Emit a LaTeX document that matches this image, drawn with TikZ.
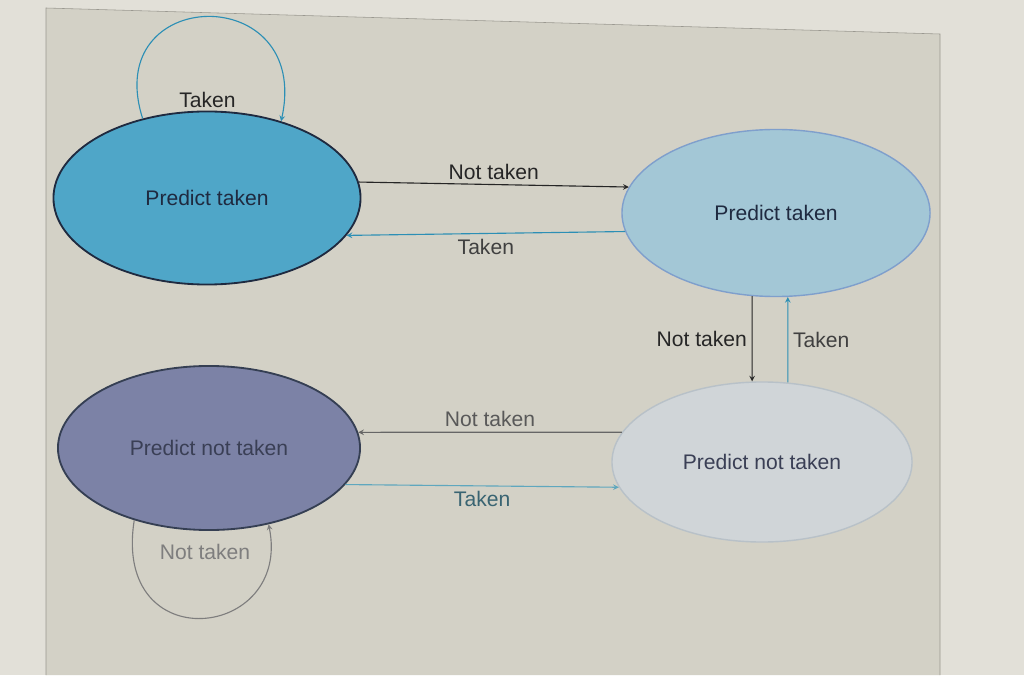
\documentclass[tikz,border=0pt]{standalone}
\usepackage{fontspec}
\setmainfont{Liberation Sans}
\usepackage{xcolor}
\usepackage{tikz}
\usetikzlibrary{shapes.geometric, arrows}
\definecolor{screenbg}{HTML}{D3D1C6}
\definecolor{screenedge}{HTML}{E2E0D8}
\definecolor{framegray}{HTML}{9A9890}
\definecolor{strongblue}{HTML}{4FA6C8}
\definecolor{weakblue}{HTML}{A3C7D6}
\definecolor{strongslate}{HTML}{7C82A6}
\definecolor{weakslate}{HTML}{D0D5D8}
\definecolor{darknavy}{HTML}{1F2A40}
\definecolor{slatetext}{HTML}{3A3F55}
\definecolor{paleblue}{HTML}{7F9FCC}
\definecolor{palegray}{HTML}{B8C1C8}
\definecolor{takenteal}{HTML}{2C8FB5}
\definecolor{fadedteal}{HTML}{5FA7BE}
\definecolor{fadedgray}{HTML}{7E7E7E}

\begin{document}
\begin{tikzpicture}[
    x=0.025cm, y=-0.025cm,
    predict/.style={ellipse, line width=1.3pt, font=\fontsize{15}{18}\selectfont},
    label/.style={font=\fontsize{15}{18}\selectfont},
    arrow/.style={->, >=stealth, thick}
]

% Screen
\fill[screenedge] (0,0) rectangle (1024,675);
\fill[screenbg] (46,8) -- (940,34) -- (940,675) -- (46,675) -- cycle;
\draw[framegray, thin] (46,675) -- (46,8) -- (940,34) -- (940,675);
\useasboundingbox (0,0) rectangle (1024,675);

% Nodes
\node[predict, fill=strongblue, draw=darknavy, text=darknavy, minimum width=7.675cm, minimum height=4.325cm] (ptl) at (207,198) {Predict taken};
\node[predict, fill=weakblue, draw=paleblue, line width=1pt, text=darknavy, minimum width=7.7cm, minimum height=4.175cm] (ptr) at (776,213) {Predict taken};
\node[predict, fill=strongslate, draw=darknavy!90, text=slatetext, minimum width=7.55cm, minimum height=4.1cm] (pnl) at (209,448) {Predict not taken};
\node[predict, fill=weakslate, draw=palegray, line width=1pt, text=slatetext, minimum width=7.5cm, minimum height=4cm] (pnr) at (762,462) {Predict not taken};

% Arrows
\draw[arrow, takenteal] (ptl.129) .. controls (100,-15) and (312,-20) .. node[pos=0.5, below=50pt, label, text=black!85] {Taken} (ptl.46);
\draw[arrow, black!85] (ptl.6) -- node[above, label, text=black!85] {Not taken} (ptr.170);
\draw[arrow, takenteal] (ptr.187) -- node[below, label, text=black!75] {Taken} (ptl.345);
\draw[arrow, black!85] (ptr.254) -- node[left, label, text=black!85] {Not taken} (pnr.97);
\draw[arrow, takenteal] (pnr.72) -- node[right, label, text=black!75] {Taken} (ptr.278);
\draw[arrow, black!60] (pnr.168) -- node[above, label, text=black!65] {Not taken} (pnl.6);
\draw[arrow, fadedteal] (pnl.345) -- node[below, label, text=fadedteal!60!black] {Taken} (pnr.190);
\draw[arrow, fadedgray] (pnl.224) .. controls (112,660) and (292,640) .. (pnl.308);
\node[label, text=fadedgray] (ntl) at (205,552) {Not taken};

\end{tikzpicture}
\end{document}
